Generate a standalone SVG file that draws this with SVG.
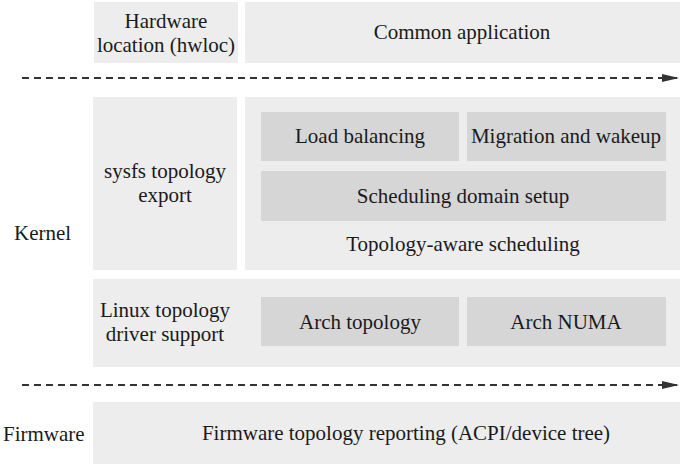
<svg xmlns="http://www.w3.org/2000/svg" width="685" height="467" viewBox="0 0 685 467">
<defs>
<style>
.t{font-size:21px;fill:#1a1a1a;text-anchor:middle}
.outer{fill:#ededed}
.inner{fill:#d6d6d6}
.arr{stroke:#333;stroke-width:2;stroke-dasharray:7 5;fill:none}
.lbl{text-anchor:start}
</style>
<marker id="ah" viewBox="0 0 10 10" refX="10" refY="5" markerWidth="17" markerHeight="8" markerUnits="userSpaceOnUse" preserveAspectRatio="none" orient="auto">
<path d="M0,0 L10,5 L0,10 z" fill="#333"/>
</marker>
</defs>
<rect width="685" height="467" fill="#fff"/>
<g font-family="Liberation Serif, Times New Roman, DejaVu Serif, serif">
<g id="hwloc"><rect class="outer" x="94" y="2" width="144" height="61"/><text class="t" x="166" y="28">Hardware</text><text class="t" x="166" y="52">location (hwloc)</text></g>
<g id="common"><rect class="outer" x="245" y="2" width="435" height="61"/><text class="t" x="462" y="39">Common application</text></g>
<g id="sysfs"><rect class="outer" x="93" y="97" width="144" height="173"/><text class="t" x="165" y="178">sysfs topology</text><text class="t" x="165" y="202">export</text></g>
<g id="topo-sched"><rect class="outer" x="245" y="97" width="435" height="173"/><text class="t" x="463" y="251">Topology-aware scheduling</text></g>
<g id="load"><rect class="inner" x="261" y="112" width="198" height="49"/><text class="t" x="360" y="143">Load balancing</text></g>
<g id="migration"><rect class="inner" x="467" y="112" width="199" height="49"/><text class="t" x="566" y="143">Migration and wakeup</text></g>
<g id="sched-domain"><rect class="inner" x="261" y="171" width="405" height="50"/><text class="t" x="463" y="203">Scheduling domain setup</text></g>
<g id="linux"><rect class="outer" x="93" y="279" width="587" height="88"/><text class="t" x="165" y="317">Linux topology</text><text class="t" x="165" y="341">driver support</text></g>
<g id="arch-topo"><rect class="inner" x="261" y="297" width="198" height="49"/><text class="t" x="360" y="329">Arch topology</text></g>
<g id="arch-numa"><rect class="inner" x="467" y="297" width="199" height="49"/><text class="t" x="566" y="329">Arch NUMA</text></g>
<g id="firmware-box"><rect class="outer" x="93" y="402" width="587" height="62"/><text class="t" x="406" y="440">Firmware topology reporting (ACPI/device tree)</text></g>
<g id="kernel-label"><text class="t lbl" x="14" y="240">Kernel</text></g>
<g id="firmware-label"><text class="t lbl" x="3" y="441">Firmware</text></g>
</g>
<g id="connectors">
<line class="arr" x1="22" y1="78" x2="679" y2="78" marker-end="url(#ah)"/>
<line class="arr" x1="22" y1="385" x2="679" y2="385" marker-end="url(#ah)"/>
</g>
</svg>
